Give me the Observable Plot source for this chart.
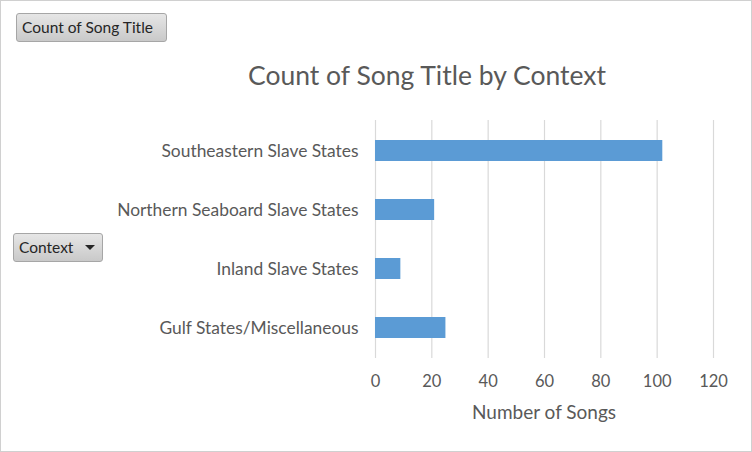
<!DOCTYPE html>
<html><head><meta charset="utf-8">
<script src="https://cdn.jsdelivr.net/npm/d3@7"></script>
<script src="https://cdn.jsdelivr.net/npm/@observablehq/plot@0.6"></script>
<style>
body{margin:0;background:#fff;}
#wrap{position:relative;width:752px;height:452px;overflow:hidden;font-family:Lato,"Open Sans",sans-serif;}
#wrap svg{position:absolute;left:0;top:0;}
.frame{position:absolute;left:0;top:0;width:750px;height:450px;border:1px solid #d0d0d0;pointer-events:none;}
.btn{position:absolute;box-sizing:border-box;border:1px solid #a6a6a6;border-radius:3px;background:linear-gradient(#e6e6e6,#c9c9c9);color:#262626;font-size:15.5px;line-height:27px;padding-left:5px;}
.title{position:absolute;left:0;width:752px;text-align:center;top:59px;font-size:26.5px;color:#595959;padding-left:102px;box-sizing:border-box;}
.xlab{position:absolute;left:375px;width:338px;text-align:center;top:400px;font-size:19px;color:#595959;}
.tri{position:absolute;right:7px;top:11px;width:0;height:0;border-left:5px solid transparent;border-right:5px solid transparent;border-top:5px solid #262626;}
</style></head>
<body>
<div id="wrap"></div>
<script>
const contexts = ["Southeastern Slave States","Northern Seaboard Slave States","Inland Slave States","Gulf States/Miscellaneous"];
const counts = [102, 21, 9, 25];
const xTicks = [0, 20, 40, 60, 80, 100, 120];

const data = contexts.map((c, i) => ({context: c, count: counts[i]}));

const chart = Plot.plot({
  width: 752,
  height: 452,
  marginLeft: 375,
  marginRight: 39,
  marginTop: 120,
  marginBottom: 94,
  style: {fontFamily: "Lato, 'Open Sans', sans-serif", fontSize: "17px", color: "#595959", background: "transparent"},
  x: {domain: [0, 120], ticks: xTicks, label: null, grid: false},
  y: {domain: contexts, label: null, paddingInner: 0.647, paddingOuter: 0.3235, align: 0.5},
  marks: [
    Plot.ruleX(xTicks, {stroke: "#d9d9d9", strokeWidth: 1.2, strokeOpacity: 1}),
    Plot.barX(data, {y: "context", x: "count", fill: "#5b9bd5"}),
    Plot.axisX({ticks: xTicks, tickSize: 0, tickPadding: 17, fontSize: 16.5, label: null, color: "#595959"}),
    Plot.axisY({tickSize: 0, tickPadding: 17, label: null, color: "#595959", fontSize: 17.4})
  ]
});
const wrap = document.getElementById("wrap");
wrap.appendChild(chart);
wrap.insertAdjacentHTML("beforeend", `
<div class="title">Count of Song Title by Context</div>
<div class="xlab">Number of Songs</div>
<div class="btn" style="left:16px;top:13px;width:151px;height:29px;">Count of Song Title</div>
<div class="btn" style="left:13px;top:233px;width:90px;height:29px;">Context<div class="tri"></div></div>
<div class="frame"></div>`);
</script>
</body></html>
